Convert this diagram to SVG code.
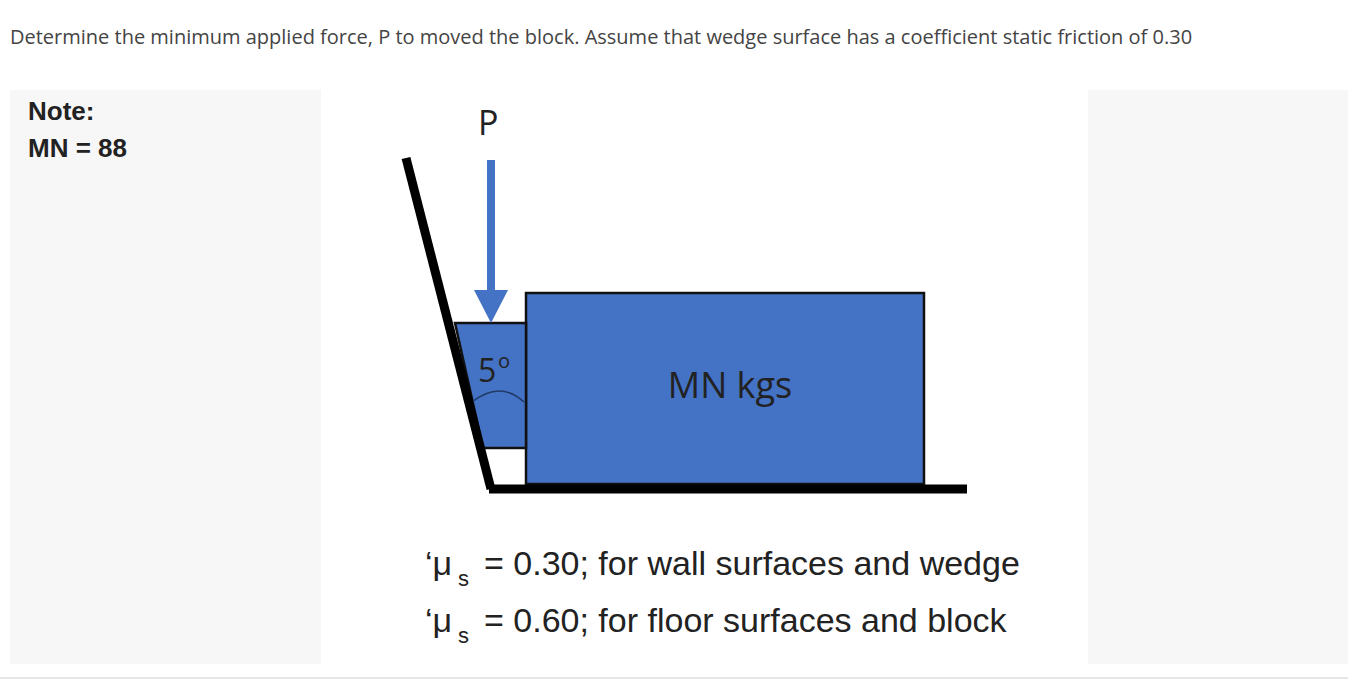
<svg xmlns="http://www.w3.org/2000/svg" width="1348" height="680" viewBox="0 0 1348 680">
<style>
text{font-family:"Liberation Sans",Arial,sans-serif;fill:#222}
.b{fill:#4472c4;stroke:#111;stroke-width:2.5}
</style>
<rect width="1348" height="680" fill="#fff"/>
<rect x="10" y="90" width="311" height="574" fill="#f7f7f7"/>
<rect x="1088" y="90" width="260" height="574" fill="#f7f7f7"/>
<line x1="0" y1="678" x2="1348" y2="678" stroke="#e6e6e6" stroke-width="2"/>
<text x="10" y="44" font-family="Open Sans" style="font-family:'Open Sans',sans-serif;fill:#444" font-size="20">Determine the minimum applied force, P to moved the block. Assume that wedge surface has a coefficient static friction of 0.30</text>
<text x="28" y="120" font-size="26" font-weight="bold">Note:</text>
<text x="28" y="157" font-size="26" font-weight="bold">MN = 88</text>
<g id="block"><rect class="b" x="526" y="293" width="398" height="191"/>
<text x="730" y="398" font-size="36" text-anchor="middle" style="font-family:'Open Sans',sans-serif;fill:#222">MN kgs</text></g>
<g id="wedge"><polygon class="b" points="455,323 526,323 526,448 483,448"/>
<text x="478" y="382" font-size="32" style="font-family:'Open Sans',sans-serif;fill:#222">5</text>
<text x="498" y="368" font-size="20" style="font-family:'Open Sans',sans-serif;fill:#222">o</text>
<path d="M472,402 Q500,380 524,402" fill="none" stroke="#1f3a66" stroke-width="1.5"/></g>
<g id="walls" stroke="#000" stroke-width="9" fill="none">
<line x1="406" y1="158" x2="491" y2="489"/>
<line x1="489" y1="489" x2="967" y2="489"/></g>
<g id="connectors"><line x1="491" y1="160" x2="491" y2="292" stroke="#4472c4" stroke-width="8"/>
<polygon points="474,290 508,290 491,323" fill="#4472c4"/></g>
<text x="478" y="135" font-size="34" style="font-family:'Open Sans',sans-serif;fill:#222">P</text>
<text x="425" y="575" font-size="34">‘μ</text>
<text x="458" y="586" font-size="22">s</text>
<text x="484" y="575" font-size="34">= 0.30; for wall surfaces and wedge</text>
<text x="425" y="632" font-size="34">‘μ</text>
<text x="458" y="643" font-size="22">s</text>
<text x="484" y="632" font-size="34">= 0.60; for floor surfaces and block</text>
</svg>
